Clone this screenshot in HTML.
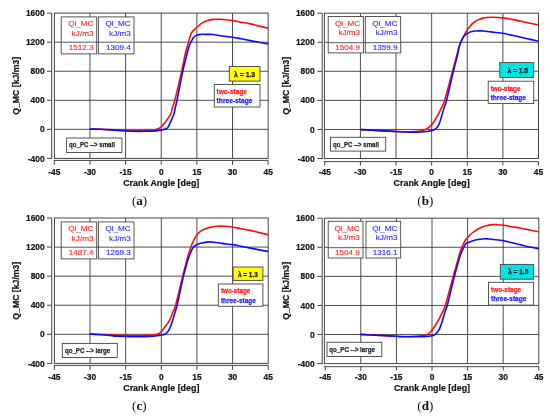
<!DOCTYPE html>
<html lang="en"><head><meta charset="utf-8"><title>Q_MC vs Crank Angle</title>
<style>html,body{margin:0;padding:0;background:#fff;}svg{display:block;}text{font-family:"Liberation Sans", Arial, sans-serif;}.tk{font-size:8.4px;font-weight:bold;fill:#111;stroke:#111;stroke-width:0.2px;}.ti{font-size:8.9px;font-weight:bold;fill:#111;stroke:#111;stroke-width:0.2px;}.qi{font-size:8.1px;}.cb{font-size:7.5px;font-weight:bold;stroke-width:0.25px;}.cap{font-family:"Liberation Serif", "DejaVu Serif", serif;font-size:13px;fill:#111;}</style></head><body>
<svg width="550" height="419" viewBox="0 0 550 419">
<rect x="0" y="0" width="550" height="419" fill="#fff"/>
<g id="panel-a">
<path d="M89.94,13.10V158.40M125.58,13.10V158.40M161.22,13.10V158.40M196.87,13.10V158.40M232.51,13.10V158.40M54.40,42.16H268.15M54.40,71.22H268.15M54.40,100.28H268.15M54.40,129.34H268.15" stroke="#3a3a3a" stroke-width="0.9" fill="none"/>
<rect x="54.40" y="13.10" width="213.75" height="145.30" fill="none" stroke="#444" stroke-width="1"/>
<path d="M51.70,13.10V158.90M53.90,160.40H268.15M46.90,13.10H51.70M46.90,42.16H51.70M46.90,71.22H51.70M46.90,100.28H51.70M46.90,129.34H51.70M46.90,158.40H51.70M54.30,160.40V164.80M89.94,160.40V164.80M125.58,160.40V164.80M161.22,160.40V164.80M196.87,160.40V164.80M232.51,160.40V164.80M268.15,160.40V164.80" stroke="#444" stroke-width="1" fill="none"/>
<text class="tk" x="44.60" y="16.20" text-anchor="end">1600</text>
<text class="tk" x="44.60" y="45.26" text-anchor="end">1200</text>
<text class="tk" x="44.60" y="74.32" text-anchor="end">800</text>
<text class="tk" x="44.60" y="103.38" text-anchor="end">400</text>
<text class="tk" x="44.60" y="132.44" text-anchor="end">0</text>
<text class="tk" x="44.60" y="161.50" text-anchor="end">-400</text>
<text class="tk" x="54.30" y="174.80" text-anchor="middle">-45</text>
<text class="tk" x="89.94" y="174.80" text-anchor="middle">-30</text>
<text class="tk" x="125.58" y="174.80" text-anchor="middle">-15</text>
<text class="tk" x="161.22" y="174.80" text-anchor="middle">0</text>
<text class="tk" x="196.87" y="174.80" text-anchor="middle">15</text>
<text class="tk" x="232.51" y="174.80" text-anchor="middle">30</text>
<text class="tk" x="268.15" y="174.80" text-anchor="middle">45</text>
<text class="ti" x="161.22" y="185.50" text-anchor="middle">Crank Angle [deg]</text>
<text class="ti" style="font-size:8.7px" transform="translate(19.30,85.75) rotate(-90)" text-anchor="middle">Q_MC [kJ/m3]</text>
<path d="M89.90,129.10C91.58,129.12 96.65,129.12 100.00,129.20C103.35,129.28 106.67,129.45 110.00,129.60C113.33,129.75 116.67,129.95 120.00,130.10C123.33,130.25 126.67,130.40 130.00,130.50C133.33,130.60 136.83,130.68 140.00,130.70C143.17,130.72 146.83,130.70 149.00,130.60C151.17,130.50 151.60,130.35 153.00,130.10C154.40,129.85 156.03,129.65 157.40,129.10C158.77,128.55 159.83,128.03 161.20,126.80C162.57,125.57 164.02,123.82 165.60,121.70C167.18,119.58 169.58,116.38 170.70,114.10C171.82,111.82 171.62,110.30 172.30,108.00C172.98,105.70 173.22,106.48 174.80,100.30C176.38,94.12 180.08,78.53 181.80,70.90C183.52,63.27 184.27,58.32 185.10,54.50C185.93,50.68 186.22,50.08 186.80,48.00C187.38,45.92 188.10,43.75 188.60,42.00C189.10,40.25 189.35,38.97 189.80,37.50C190.25,36.03 190.68,34.38 191.30,33.20C191.92,32.02 192.60,31.35 193.50,30.40C194.40,29.45 195.70,28.40 196.70,27.50C197.70,26.60 198.58,25.77 199.50,25.00C200.42,24.23 200.95,23.60 202.20,22.90C203.45,22.20 205.18,21.38 207.00,20.80C208.82,20.22 210.73,19.65 213.10,19.40C215.47,19.15 219.05,19.23 221.20,19.30C223.35,19.37 224.07,19.58 226.00,19.80C227.93,20.02 230.30,20.20 232.80,20.60C235.30,21.00 238.08,21.65 241.00,22.20C243.92,22.75 247.30,23.27 250.30,23.90C253.30,24.53 256.02,25.27 259.00,26.00C261.98,26.73 266.67,27.92 268.20,28.30" fill="none" stroke="#ff0a0a" stroke-width="1.6" stroke-linejoin="round" stroke-linecap="butt"/>
<path d="M89.90,129.10C91.58,129.13 96.65,129.17 100.00,129.30C103.35,129.43 106.67,129.68 110.00,129.90C113.33,130.12 116.67,130.38 120.00,130.60C123.33,130.82 125.83,131.08 130.00,131.20C134.17,131.32 140.75,131.35 145.00,131.30C149.25,131.25 153.00,131.08 155.50,130.90C158.00,130.72 158.73,130.42 160.00,130.20C161.27,129.98 162.05,129.85 163.10,129.60C164.15,129.35 165.45,129.17 166.30,128.70C167.15,128.23 167.47,127.97 168.20,126.80C168.93,125.63 169.75,123.82 170.70,121.70C171.65,119.58 173.15,116.38 173.90,114.10C174.65,111.82 174.68,110.30 175.20,108.00C175.72,105.70 175.73,106.48 177.00,100.30C178.27,94.12 181.15,78.53 182.80,70.90C184.45,63.27 185.95,58.32 186.90,54.50C187.85,50.68 187.92,49.88 188.50,48.00C189.08,46.12 189.87,44.43 190.40,43.20C190.93,41.97 191.18,41.53 191.70,40.60C192.22,39.67 192.95,38.33 193.50,37.60C194.05,36.87 194.47,36.60 195.00,36.20C195.53,35.80 196.03,35.47 196.70,35.20C197.37,34.93 198.08,34.75 199.00,34.60C199.92,34.45 200.87,34.33 202.20,34.30C203.53,34.27 205.18,34.37 207.00,34.40C208.82,34.43 210.87,34.27 213.10,34.50C215.33,34.73 218.25,35.47 220.40,35.80C222.55,36.13 223.93,36.25 226.00,36.50C228.07,36.75 230.30,36.92 232.80,37.30C235.30,37.68 238.08,38.25 241.00,38.80C243.92,39.35 247.30,40.02 250.30,40.60C253.30,41.18 256.02,41.73 259.00,42.30C261.98,42.87 266.67,43.72 268.20,44.00" fill="none" stroke="#0a0aff" stroke-width="1.6" stroke-linejoin="round" stroke-linecap="butt"/>
<rect x="61.20" y="16.90" width="35.50" height="37.00" fill="#fff" stroke="#444" stroke-width="0.9"/>
<path d="M61.20,42.20H96.70" stroke="#444" stroke-width="0.9"/>
<text class="qi" fill="#ff2a2a" stroke="#ff2a2a" stroke-width="0.15" text-anchor="end"><tspan x="93.40" y="26.10">Qi_MC</tspan><tspan x="93.40" y="35.80">kJ/m3</tspan><tspan x="93.40" y="50.40">1512.3</tspan></text>
<rect x="98.40" y="16.90" width="35.60" height="37.00" fill="#fff" stroke="#444" stroke-width="0.9"/>
<path d="M98.40,42.20H134.00" stroke="#444" stroke-width="0.9"/>
<text class="qi" fill="#3030ff" stroke="#3030ff" stroke-width="0.15" text-anchor="end"><tspan x="130.70" y="26.10">Qi_MC</tspan><tspan x="130.70" y="35.80">kJ/m3</tspan><tspan x="130.70" y="50.40">1309.4</tspan></text>
<rect x="229.30" y="66.50" width="30.70" height="14.60" fill="#ffff00" stroke="#444" stroke-width="0.9"/>
<text class="cb" x="234.10" y="76.60" fill="#111" stroke="#111" textLength="21.00" lengthAdjust="spacingAndGlyphs">λ = 1.3</text>
<rect x="214.30" y="84.50" width="45.70" height="22.50" fill="#fff" stroke="#444" stroke-width="0.9"/>
<text class="cb" x="216.60" y="93.60" fill="#ff1a1a" stroke="#ff1a1a" textLength="30.40" lengthAdjust="spacingAndGlyphs">two-stage</text>
<text class="cb" x="216.60" y="103.10" fill="#1a1aff" stroke="#1a1aff" textLength="35.90" lengthAdjust="spacingAndGlyphs">three-stage</text>
<rect x="66.60" y="138.00" width="55.30" height="14.50" fill="#fff" stroke="#444" stroke-width="0.9"/>
<text class="cb" x="69.10" y="147.20" fill="#222" stroke="#222" textLength="45.80" lengthAdjust="spacingAndGlyphs">qo_PC --&gt; small</text>
<text class="cap" x="139.50" y="205.00" text-anchor="middle">(<tspan font-weight="bold">a</tspan>)</text>
</g>
<g id="panel-b">
<path d="M360.42,13.20V158.50M396.03,13.20V158.50M431.65,13.20V158.50M467.27,13.20V158.50M502.88,13.20V158.50M324.40,42.26H538.50M324.40,71.32H538.50M324.40,100.38H538.50M324.40,129.44H538.50" stroke="#3a3a3a" stroke-width="0.9" fill="none"/>
<rect x="324.40" y="13.20" width="214.10" height="145.30" fill="none" stroke="#444" stroke-width="1"/>
<path d="M322.20,13.20V159.00M323.90,161.60H538.50M317.40,13.20H322.20M317.40,42.26H322.20M317.40,71.32H322.20M317.40,100.38H322.20M317.40,129.44H322.20M317.40,158.50H322.20M324.80,161.60V165.50M360.42,161.60V165.50M396.03,161.60V165.50M431.65,161.60V165.50M467.27,161.60V165.50M502.88,161.60V165.50M538.50,161.60V165.50" stroke="#444" stroke-width="1" fill="none"/>
<text class="tk" x="314.60" y="16.30" text-anchor="end">1600</text>
<text class="tk" x="314.60" y="45.36" text-anchor="end">1200</text>
<text class="tk" x="314.60" y="74.42" text-anchor="end">800</text>
<text class="tk" x="314.60" y="103.48" text-anchor="end">400</text>
<text class="tk" x="314.60" y="132.54" text-anchor="end">0</text>
<text class="tk" x="314.60" y="161.60" text-anchor="end">-400</text>
<text class="tk" x="324.80" y="174.90" text-anchor="middle">-45</text>
<text class="tk" x="360.42" y="174.90" text-anchor="middle">-30</text>
<text class="tk" x="396.03" y="174.90" text-anchor="middle">-15</text>
<text class="tk" x="431.65" y="174.90" text-anchor="middle">0</text>
<text class="tk" x="467.27" y="174.90" text-anchor="middle">15</text>
<text class="tk" x="502.88" y="174.90" text-anchor="middle">30</text>
<text class="tk" x="538.50" y="174.90" text-anchor="middle">45</text>
<text class="ti" x="431.65" y="185.60" text-anchor="middle">Crank Angle [deg]</text>
<text class="ti" style="font-size:8.7px" transform="translate(289.30,85.85) rotate(-90)" text-anchor="middle">Q_MC [kJ/m3]</text>
<path d="M360.40,129.60C363.67,129.77 374.10,130.28 380.00,130.60C385.90,130.92 390.80,131.30 395.80,131.50C400.80,131.70 406.30,131.83 410.00,131.80C413.70,131.77 415.60,131.60 418.00,131.30C420.40,131.00 422.48,130.75 424.40,130.00C426.32,129.25 427.92,128.18 429.50,126.80C431.08,125.42 432.42,123.82 433.90,121.70C435.38,119.58 437.13,116.43 438.40,114.10C439.67,111.77 440.45,110.00 441.50,107.70C442.55,105.40 442.87,106.33 444.70,100.30C446.53,94.27 450.47,79.05 452.50,71.50C454.53,63.95 455.85,58.92 456.90,55.00C457.95,51.08 458.17,50.13 458.80,48.00C459.43,45.87 459.75,44.40 460.70,42.20C461.65,40.00 463.35,36.93 464.50,34.80C465.65,32.67 466.32,31.22 467.60,29.40C468.88,27.58 470.80,25.32 472.20,23.90C473.60,22.48 474.78,21.68 476.00,20.90C477.22,20.12 478.33,19.67 479.50,19.20C480.67,18.73 481.80,18.38 483.00,18.10C484.20,17.82 485.20,17.63 486.70,17.50C488.20,17.37 490.12,17.30 492.00,17.30C493.88,17.30 496.22,17.40 498.00,17.50C499.78,17.60 500.37,17.58 502.70,17.90C505.03,18.22 508.95,18.83 512.00,19.40C515.05,19.97 518.00,20.67 521.00,21.30C524.00,21.93 527.07,22.62 530.00,23.20C532.93,23.78 537.17,24.53 538.60,24.80" fill="none" stroke="#ff0a0a" stroke-width="1.6" stroke-linejoin="round" stroke-linecap="butt"/>
<path d="M360.40,129.60C363.67,129.77 374.10,130.28 380.00,130.60C385.90,130.92 390.73,131.23 395.80,131.50C400.87,131.77 405.63,132.17 410.40,132.20C415.17,132.23 420.80,131.97 424.40,131.70C428.00,131.43 430.10,131.10 432.00,130.60C433.90,130.10 434.63,129.75 435.80,128.70C436.97,127.65 438.05,126.32 439.00,124.30C439.95,122.28 440.65,119.37 441.50,116.60C442.35,113.83 443.25,110.42 444.10,107.70C444.95,104.98 445.07,106.33 446.60,100.30C448.13,94.27 451.48,79.05 453.30,71.50C455.12,63.95 456.58,58.87 457.50,55.00C458.42,51.13 458.27,50.38 458.80,48.30C459.33,46.22 459.85,44.52 460.70,42.50C461.55,40.48 462.80,37.68 463.90,36.20C465.00,34.72 466.13,34.35 467.30,33.60C468.47,32.85 469.45,32.13 470.90,31.70C472.35,31.27 473.88,31.12 476.00,31.00C478.12,30.88 481.27,30.87 483.60,31.00C485.93,31.13 487.93,31.55 490.00,31.80C492.07,32.05 493.88,32.25 496.00,32.50C498.12,32.75 500.03,32.85 502.70,33.30C505.37,33.75 508.95,34.53 512.00,35.20C515.05,35.87 518.00,36.60 521.00,37.30C524.00,38.00 527.07,38.78 530.00,39.40C532.93,40.02 537.17,40.73 538.60,41.00" fill="none" stroke="#0a0aff" stroke-width="1.6" stroke-linejoin="round" stroke-linecap="butt"/>
<rect x="328.20" y="16.50" width="35.20" height="36.40" fill="#fff" stroke="#444" stroke-width="0.9"/>
<path d="M328.20,42.70H363.40" stroke="#444" stroke-width="0.9"/>
<text class="qi" fill="#ff2a2a" stroke="#ff2a2a" stroke-width="0.15" text-anchor="end"><tspan x="360.10" y="25.70">Qi_MC</tspan><tspan x="360.10" y="35.40">kJ/m3</tspan><tspan x="360.10" y="50.00">1504.9</tspan></text>
<rect x="365.30" y="16.50" width="35.40" height="36.40" fill="#fff" stroke="#444" stroke-width="0.9"/>
<path d="M365.30,42.70H400.70" stroke="#444" stroke-width="0.9"/>
<text class="qi" fill="#3030ff" stroke="#3030ff" stroke-width="0.15" text-anchor="end"><tspan x="397.40" y="25.70">Qi_MC</tspan><tspan x="397.40" y="35.40">kJ/m3</tspan><tspan x="397.40" y="50.00">1359.9</tspan></text>
<rect x="499.80" y="62.60" width="33.90" height="14.90" fill="#00e6e6" stroke="#444" stroke-width="0.9"/>
<text class="cb" x="507.50" y="72.60" fill="#111" stroke="#111" textLength="20.40" lengthAdjust="spacingAndGlyphs">λ = 1.5</text>
<rect x="488.20" y="81.20" width="45.50" height="22.20" fill="#fff" stroke="#444" stroke-width="0.9"/>
<text class="cb" x="490.70" y="90.50" fill="#ff1a1a" stroke="#ff1a1a" textLength="29.90" lengthAdjust="spacingAndGlyphs">two-stage</text>
<text class="cb" x="490.70" y="99.80" fill="#1a1aff" stroke="#1a1aff" textLength="35.30" lengthAdjust="spacingAndGlyphs">three-stage</text>
<rect x="330.50" y="137.30" width="55.20" height="13.80" fill="#fff" stroke="#444" stroke-width="0.9"/>
<text class="cb" x="333.10" y="146.70" fill="#222" stroke="#222" textLength="45.80" lengthAdjust="spacingAndGlyphs">qo_PC --&gt; small</text>
<text class="cap" x="425.30" y="205.00" text-anchor="middle">(<tspan font-weight="bold">b</tspan>)</text>
</g>
<g id="panel-c">
<path d="M90.03,218.00V363.40M125.67,218.00V363.40M161.30,218.00V363.40M196.93,218.00V363.40M232.57,218.00V363.40M54.45,247.08H268.20M54.45,276.16H268.20M54.45,305.24H268.20M54.45,334.32H268.20" stroke="#3a3a3a" stroke-width="0.9" fill="none"/>
<rect x="54.45" y="218.00" width="213.75" height="145.40" fill="none" stroke="#444" stroke-width="1"/>
<path d="M51.75,218.00V363.90M53.95,365.40H268.20M46.95,218.00H51.75M46.95,247.08H51.75M46.95,276.16H51.75M46.95,305.24H51.75M46.95,334.32H51.75M46.95,363.40H51.75M54.40,365.40V369.80M90.03,365.40V369.80M125.67,365.40V369.80M161.30,365.40V369.80M196.93,365.40V369.80M232.57,365.40V369.80M268.20,365.40V369.80" stroke="#444" stroke-width="1" fill="none"/>
<text class="tk" x="44.65" y="221.10" text-anchor="end">1600</text>
<text class="tk" x="44.65" y="250.18" text-anchor="end">1200</text>
<text class="tk" x="44.65" y="279.26" text-anchor="end">800</text>
<text class="tk" x="44.65" y="308.34" text-anchor="end">400</text>
<text class="tk" x="44.65" y="337.42" text-anchor="end">0</text>
<text class="tk" x="44.65" y="366.50" text-anchor="end">-400</text>
<text class="tk" x="54.40" y="379.80" text-anchor="middle">-45</text>
<text class="tk" x="90.03" y="379.80" text-anchor="middle">-30</text>
<text class="tk" x="125.67" y="379.80" text-anchor="middle">-15</text>
<text class="tk" x="161.30" y="379.80" text-anchor="middle">0</text>
<text class="tk" x="196.93" y="379.80" text-anchor="middle">15</text>
<text class="tk" x="232.57" y="379.80" text-anchor="middle">30</text>
<text class="tk" x="268.20" y="379.80" text-anchor="middle">45</text>
<text class="ti" x="161.30" y="390.50" text-anchor="middle">Crank Angle [deg]</text>
<text class="ti" style="font-size:8.7px" transform="translate(19.35,290.70) rotate(-90)" text-anchor="middle">Q_MC [kJ/m3]</text>
<path d="M89.90,334.10C93.25,334.22 103.32,334.55 110.00,334.80C116.68,335.05 123.48,335.50 130.00,335.60C136.52,335.70 145.10,335.52 149.10,335.40C153.10,335.28 152.52,335.12 154.00,334.90C155.48,334.68 156.80,334.62 158.00,334.10C159.20,333.58 160.03,333.03 161.20,331.80C162.37,330.57 163.62,328.60 165.00,326.70C166.38,324.80 168.23,322.73 169.50,320.40C170.77,318.07 171.58,315.22 172.60,312.70C173.62,310.18 173.90,311.43 175.60,305.30C177.30,299.17 180.92,283.45 182.80,275.90C184.68,268.35 185.90,263.77 186.90,260.00C187.90,256.23 188.07,255.63 188.80,253.30C189.53,250.97 190.38,248.35 191.30,246.00C192.22,243.65 193.33,241.10 194.30,239.20C195.27,237.30 196.02,235.93 197.10,234.60C198.18,233.27 199.73,232.03 200.80,231.20C201.87,230.37 202.00,230.23 203.50,229.60C205.00,228.97 207.58,227.95 209.80,227.40C212.02,226.85 214.18,226.48 216.80,226.30C219.42,226.12 222.83,226.15 225.50,226.30C228.17,226.45 230.22,226.80 232.80,227.20C235.38,227.60 238.08,228.17 241.00,228.70C243.92,229.23 247.30,229.77 250.30,230.40C253.30,231.03 256.02,231.78 259.00,232.50C261.98,233.22 266.67,234.33 268.20,234.70" fill="none" stroke="#ff0a0a" stroke-width="1.6" stroke-linejoin="round" stroke-linecap="butt"/>
<path d="M89.90,334.10C92.42,334.25 100.32,334.65 105.00,335.00C109.68,335.35 113.83,335.92 118.00,336.20C122.17,336.48 125.50,336.63 130.00,336.70C134.50,336.77 141.18,336.67 145.00,336.60C148.82,336.53 150.10,336.57 152.90,336.30C155.70,336.03 159.68,335.43 161.80,335.00C163.92,334.57 164.53,334.33 165.60,333.70C166.67,333.07 167.23,332.78 168.20,331.20C169.17,329.62 170.35,327.07 171.40,324.20C172.45,321.33 173.55,317.15 174.50,314.00C175.45,310.85 175.60,311.65 177.10,305.30C178.60,298.95 181.70,283.45 183.50,275.90C185.30,268.35 186.80,263.67 187.90,260.00C189.00,256.33 189.25,255.97 190.10,253.90C190.95,251.83 192.10,249.02 193.00,247.60C193.90,246.18 194.40,246.07 195.50,245.40C196.60,244.73 198.18,244.07 199.60,243.60C201.02,243.13 202.60,242.88 204.00,242.60C205.40,242.32 206.33,241.97 208.00,241.90C209.67,241.83 212.05,242.02 214.00,242.20C215.95,242.38 217.70,242.70 219.70,243.00C221.70,243.30 223.82,243.73 226.00,244.00C228.18,244.27 230.30,244.22 232.80,244.60C235.30,244.98 238.08,245.72 241.00,246.30C243.92,246.88 247.30,247.50 250.30,248.10C253.30,248.70 256.02,249.33 259.00,249.90C261.98,250.47 266.67,251.23 268.20,251.50" fill="none" stroke="#0a0aff" stroke-width="1.6" stroke-linejoin="round" stroke-linecap="butt"/>
<rect x="61.20" y="221.90" width="35.50" height="37.00" fill="#fff" stroke="#444" stroke-width="0.9"/>
<path d="M61.20,247.20H96.70" stroke="#444" stroke-width="0.9"/>
<text class="qi" fill="#ff2a2a" stroke="#ff2a2a" stroke-width="0.15" text-anchor="end"><tspan x="93.40" y="231.10">Qi_MC</tspan><tspan x="93.40" y="240.80">kJ/m3</tspan><tspan x="93.40" y="255.40">1487.4</tspan></text>
<rect x="98.40" y="221.90" width="35.60" height="37.00" fill="#fff" stroke="#444" stroke-width="0.9"/>
<path d="M98.40,247.20H134.00" stroke="#444" stroke-width="0.9"/>
<text class="qi" fill="#3030ff" stroke="#3030ff" stroke-width="0.15" text-anchor="end"><tspan x="130.70" y="231.10">Qi_MC</tspan><tspan x="130.70" y="240.80">kJ/m3</tspan><tspan x="130.70" y="255.40">1269.3</tspan></text>
<rect x="233.10" y="267.00" width="29.80" height="13.40" fill="#ffff00" stroke="#444" stroke-width="0.9"/>
<text class="cb" x="237.90" y="276.90" fill="#111" stroke="#111" textLength="19.90" lengthAdjust="spacingAndGlyphs">λ = 1.3</text>
<rect x="218.30" y="284.00" width="44.60" height="22.30" fill="#fff" stroke="#444" stroke-width="0.9"/>
<text class="cb" x="220.90" y="293.30" fill="#ff1a1a" stroke="#ff1a1a" textLength="29.40" lengthAdjust="spacingAndGlyphs">two-stage</text>
<text class="cb" x="220.90" y="302.60" fill="#1a1aff" stroke="#1a1aff" textLength="34.90" lengthAdjust="spacingAndGlyphs">three-stage</text>
<rect x="62.30" y="343.40" width="55.00" height="14.10" fill="#fff" stroke="#444" stroke-width="0.9"/>
<text class="cb" x="64.90" y="352.90" fill="#222" stroke="#222" textLength="45.40" lengthAdjust="spacingAndGlyphs">qo_PC --&gt; large</text>
<text class="cap" x="139.30" y="410.00" text-anchor="middle">(<tspan font-weight="bold">c</tspan>)</text>
</g>
<g id="panel-d">
<path d="M360.80,218.20V363.60M396.40,218.20V363.60M432.00,218.20V363.60M467.60,218.20V363.60M503.20,218.20V363.60M324.40,247.28H538.80M324.40,276.36H538.80M324.40,305.44H538.80M324.40,334.52H538.80" stroke="#3a3a3a" stroke-width="0.9" fill="none"/>
<rect x="324.40" y="218.20" width="214.40" height="145.40" fill="none" stroke="#444" stroke-width="1"/>
<path d="M322.20,218.20V364.10M323.90,366.70H538.80M317.40,218.20H322.20M317.40,247.28H322.20M317.40,276.36H322.20M317.40,305.44H322.20M317.40,334.52H322.20M317.40,363.60H322.20M325.20,366.70V370.60M360.80,366.70V370.60M396.40,366.70V370.60M432.00,366.70V370.60M467.60,366.70V370.60M503.20,366.70V370.60M538.80,366.70V370.60" stroke="#444" stroke-width="1" fill="none"/>
<text class="tk" x="314.60" y="221.30" text-anchor="end">1600</text>
<text class="tk" x="314.60" y="250.38" text-anchor="end">1200</text>
<text class="tk" x="314.60" y="279.46" text-anchor="end">800</text>
<text class="tk" x="314.60" y="308.54" text-anchor="end">400</text>
<text class="tk" x="314.60" y="337.62" text-anchor="end">0</text>
<text class="tk" x="314.60" y="366.70" text-anchor="end">-400</text>
<text class="tk" x="325.20" y="380.00" text-anchor="middle">-45</text>
<text class="tk" x="360.80" y="380.00" text-anchor="middle">-30</text>
<text class="tk" x="396.40" y="380.00" text-anchor="middle">-15</text>
<text class="tk" x="432.00" y="380.00" text-anchor="middle">0</text>
<text class="tk" x="467.60" y="380.00" text-anchor="middle">15</text>
<text class="tk" x="503.20" y="380.00" text-anchor="middle">30</text>
<text class="tk" x="538.80" y="380.00" text-anchor="middle">45</text>
<text class="ti" x="432.00" y="390.70" text-anchor="middle">Crank Angle [deg]</text>
<text class="ti" style="font-size:8.7px" transform="translate(289.30,290.90) rotate(-90)" text-anchor="middle">Q_MC [kJ/m3]</text>
<path d="M360.40,334.40C363.67,334.57 374.00,335.10 380.00,335.40C386.00,335.70 391.40,336.02 396.40,336.20C401.40,336.38 406.18,336.53 410.00,336.50C413.82,336.47 416.58,336.30 419.30,336.00C422.02,335.70 424.40,335.40 426.30,334.70C428.20,334.00 429.33,333.13 430.70,331.80C432.07,330.47 433.12,328.82 434.50,326.70C435.88,324.58 437.72,321.43 439.00,319.10C440.28,316.77 441.13,315.00 442.20,312.70C443.27,310.40 443.55,311.37 445.40,305.30C447.25,299.23 451.22,283.85 453.30,276.30C455.38,268.75 456.87,263.73 457.90,260.00C458.93,256.27 458.82,256.08 459.50,253.90C460.18,251.72 461.05,249.13 462.00,246.90C462.95,244.67 464.25,242.08 465.20,240.50C466.15,238.92 466.53,238.65 467.70,237.40C468.87,236.15 470.60,234.32 472.20,233.00C473.80,231.68 475.40,230.57 477.30,229.50C479.20,228.43 481.98,227.25 483.60,226.60C485.22,225.95 485.63,225.93 487.00,225.60C488.37,225.27 490.13,224.75 491.80,224.60C493.47,224.45 495.02,224.58 497.00,224.70C498.98,224.82 501.20,224.97 503.70,225.30C506.20,225.63 509.13,226.22 512.00,226.70C514.87,227.18 517.90,227.63 520.90,228.20C523.90,228.77 527.03,229.50 530.00,230.10C532.97,230.70 537.25,231.52 538.70,231.80" fill="none" stroke="#ff0a0a" stroke-width="1.6" stroke-linejoin="round" stroke-linecap="butt"/>
<path d="M360.40,334.40C363.67,334.57 375.07,335.13 380.00,335.40C384.93,335.67 386.22,335.78 390.00,336.00C393.78,336.22 398.53,336.58 402.70,336.70C406.87,336.82 410.97,336.75 415.00,336.70C419.03,336.65 423.85,336.62 426.90,336.40C429.95,336.18 431.70,335.95 433.30,335.40C434.90,334.85 435.45,334.23 436.50,333.10C437.55,331.97 438.65,330.52 439.60,328.60C440.55,326.68 441.35,324.25 442.20,321.60C443.05,318.95 443.85,315.42 444.70,312.70C445.55,309.98 445.68,311.37 447.30,305.30C448.92,299.23 452.48,283.85 454.40,276.30C456.32,268.75 457.75,263.63 458.80,260.00C459.85,256.37 459.95,256.47 460.70,254.50C461.45,252.53 462.45,250.00 463.30,248.20C464.15,246.40 464.85,244.70 465.80,243.70C466.75,242.70 467.52,242.78 469.00,242.20C470.48,241.62 473.03,240.67 474.70,240.20C476.37,239.73 477.37,239.65 479.00,239.40C480.63,239.15 482.83,238.77 484.50,238.70C486.17,238.63 487.53,238.87 489.00,239.00C490.47,239.13 490.85,239.20 493.30,239.50C495.75,239.80 500.58,240.25 503.70,240.80C506.82,241.35 509.13,242.12 512.00,242.80C514.87,243.48 517.90,244.20 520.90,244.90C523.90,245.60 527.03,246.35 530.00,247.00C532.97,247.65 537.25,248.50 538.70,248.80" fill="none" stroke="#0a0aff" stroke-width="1.6" stroke-linejoin="round" stroke-linecap="butt"/>
<rect x="328.20" y="221.30" width="34.80" height="36.70" fill="#fff" stroke="#444" stroke-width="0.9"/>
<path d="M328.20,247.70H363.00" stroke="#444" stroke-width="0.9"/>
<text class="qi" fill="#ff2a2a" stroke="#ff2a2a" stroke-width="0.15" text-anchor="end"><tspan x="359.70" y="230.50">Qi_MC</tspan><tspan x="359.70" y="240.20">kJ/m3</tspan><tspan x="359.70" y="254.80">1504.9</tspan></text>
<rect x="366.00" y="221.30" width="34.70" height="36.70" fill="#fff" stroke="#444" stroke-width="0.9"/>
<path d="M366.00,247.70H400.70" stroke="#444" stroke-width="0.9"/>
<text class="qi" fill="#3030ff" stroke="#3030ff" stroke-width="0.15" text-anchor="end"><tspan x="397.40" y="230.50">Qi_MC</tspan><tspan x="397.40" y="240.20">kJ/m3</tspan><tspan x="397.40" y="254.80">1316.1</tspan></text>
<rect x="500.30" y="264.40" width="33.30" height="14.80" fill="#00e6e6" stroke="#444" stroke-width="0.9"/>
<text class="cb" x="508.10" y="274.20" fill="#111" stroke="#111" textLength="20.40" lengthAdjust="spacingAndGlyphs">λ = 1.5</text>
<rect x="488.50" y="282.30" width="45.10" height="22.80" fill="#fff" stroke="#444" stroke-width="0.9"/>
<text class="cb" x="491.10" y="291.80" fill="#ff1a1a" stroke="#ff1a1a" textLength="30.10" lengthAdjust="spacingAndGlyphs">two-stage</text>
<text class="cb" x="491.10" y="301.10" fill="#1a1aff" stroke="#1a1aff" textLength="35.30" lengthAdjust="spacingAndGlyphs">three-stage</text>
<rect x="327.00" y="342.30" width="54.80" height="14.20" fill="#fff" stroke="#444" stroke-width="0.9"/>
<text class="cb" x="329.20" y="351.70" fill="#222" stroke="#222" textLength="45.80" lengthAdjust="spacingAndGlyphs">qo_PC --&gt; large</text>
<text class="cap" x="425.30" y="409.70" text-anchor="middle">(<tspan font-weight="bold">d</tspan>)</text>
</g>
</svg></body></html>
